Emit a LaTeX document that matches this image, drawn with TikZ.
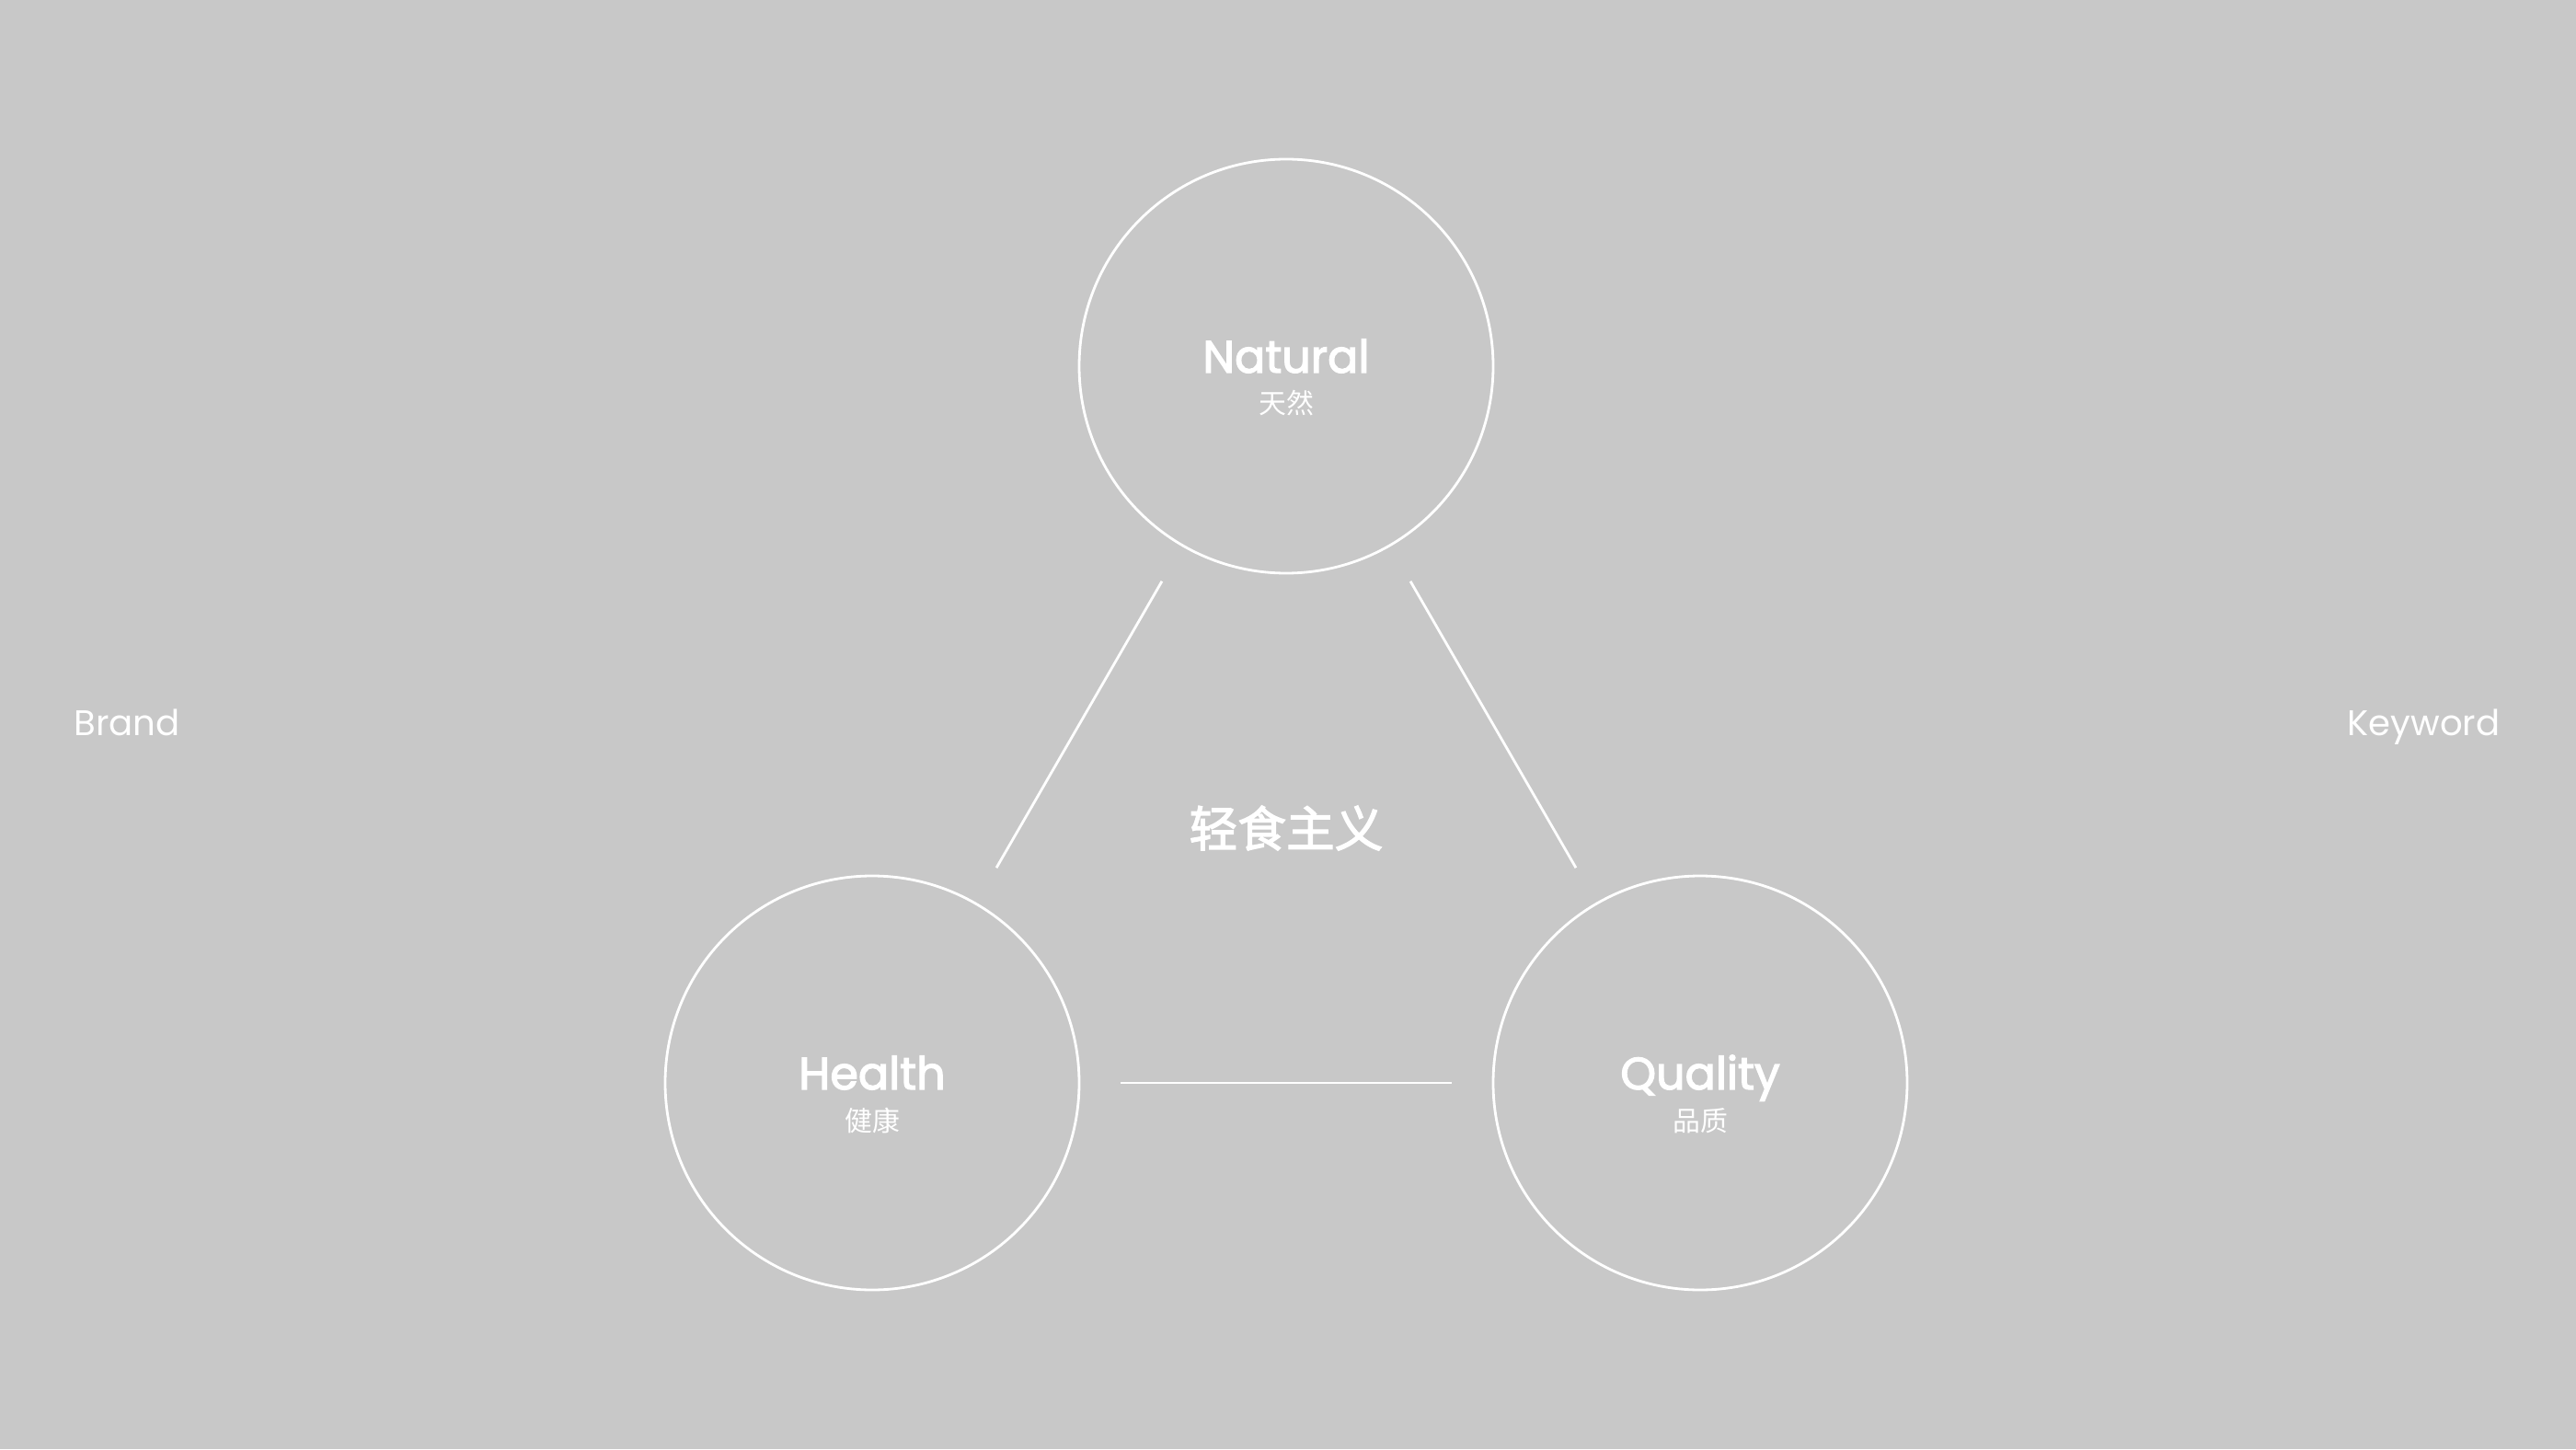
\documentclass[tikz,border=0pt]{standalone}
\usepackage{fontspec}
\setmainfont{Poppins}
\newfontfamily\medfont{Poppins}[FakeBold=2.6]
\newfontfamily\cjk{Noto Sans CJK SC}
\newfontfamily\cjkmed{Noto Sans CJK SC}[FakeBold=2.4]
\usetikzlibrary{calc}
\definecolor{bgrey}{HTML}{C8C8C8}

\begin{document}
\begin{tikzpicture}[white,
  ring/.style={circle,draw,line width=0.8pt,minimum size=4.5cm,inner sep=0,outer sep=0},
  title/.style={anchor=base,inner sep=0,font=\medfont\fontsize{14}{16}\selectfont},
  sub/.style={anchor=base,inner sep=0,font=\cjk\fontsize{8.5}{10}\selectfont},
  side/.style={inner sep=0,font=\fontsize{11}{13}\selectfont},
  link/.style={line width=0.8pt,shorten <=0.45cm,shorten >=0.45cm}]
\fill[bgrey] (0,0) rectangle (28,15.75);
\useasboundingbox (0,0) rectangle (28,15.75);
\node [ring] (natural) at (13.98,11.77) {};
\node [ring] (health) at (9.48,3.98) {};
\node [ring] (quality) at (18.48,3.98) {};
\node [title] (naturalt) at ($(natural.center)+(0,-0.07)$) {Natural};
\node [sub] (naturals) at ($(natural.center)+(0,-0.52)$) {天然};
\node [title] (healtht) at ($(health.center)+(0,-0.07)$) {Health};
\node [sub] (healths) at ($(health.center)+(0,-0.52)$) {健康};
\node [title] (qualityt) at ($(quality.center)+(0,-0.07)$) {Quality};
\node [sub] (qualitys) at ($(quality.center)+(0,-0.52)$) {品质};
\node [inner sep=0,font=\cjkmed\fontsize{15}{18}\selectfont] (core) at (13.98,6.75) {轻食主义};
\node [side,anchor=base west] (brand) at (0.80,7.76) {Brand};
\node [side,anchor=base east] (keyword) at (27.18,7.76) {Keyword};
\draw [link] (natural) -- (health);
\draw [link] (natural) -- (quality);
\draw [link] (health) -- (quality);
\end{tikzpicture}
\end{document}
